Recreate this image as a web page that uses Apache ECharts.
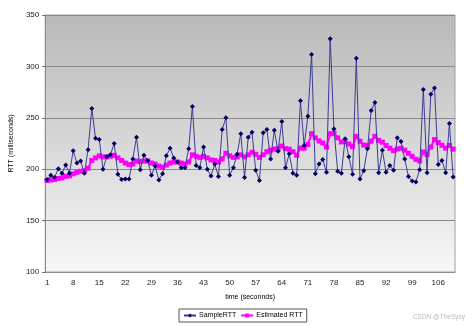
<!DOCTYPE html>
<html><head><meta charset="utf-8">
<script src="https://cdn.jsdelivr.net/npm/echarts@6/dist/echarts.min.js"></script>
<style>html,body{margin:0;padding:0;background:#fff}#c{width:474px;height:326px}</style>
</head><body><div id="c"></div>
<script>
const categories = [];
for (let i = 1; i <= 110; i++) categories.push(String(i));
const sampleRTT = [190,194,192,200.5,196,204,196,218,206,208,196,219,259,230,229,200,212,214,225,195,
190,190.5,190.5,210,231,199.5,213.5,208.5,194,203,189.5,195.5,213,220.5,211,207,201.5,201.5,220,261,
203.5,201.5,221.5,200,193.5,205,193,238.5,250,194,201.5,214.5,234.5,192,231,236,199,189,235.5,238.5,
210,238,217.5,246.5,201.5,215,196,194,266.5,223,251.5,311.5,195.5,205,209.5,197,327,239,198,196,
229.5,212,195,308,190.5,198.5,220,257,265,196.5,218.5,197,203.5,199,230.5,227,210,193,188.5,187.5,
199.5,277.5,196.5,273,279,204.5,208.5,196.5,244.5,192.5];
const estimatedRTT = [189,189.5,190,191,191.5,193,193.5,195.5,197,198,198.5,201,208.5,211,213,212,212,212.5,213.5,211,
208.5,206,204.5,205,208,207.5,208,208,206,205,203,202,204,206,207,207,206,205,207,214,
212.5,211.5,212.5,211,209,208.5,207,210,215.5,213,211.5,212,214,212,214,216.5,214.5,211.5,214,217,
218.5,219.5,220,222.5,220,219.5,217,213.5,220.5,220.5,224,234.5,230.5,227.5,225.5,221.5,234.5,235,230.5,226.5,
227,224.5,222,232,227.2,223.5,222.8,227.3,232,228,226.3,223,220.4,218,219.6,220.4,218.5,215.5,212.5,209.6,
208,216.8,214.3,221.6,228.8,226,223.3,220.5,223.1,219.5];
const yTicks = [100,150,200,250,300,350];

const FONT = 'Liberation Sans, Arial, sans-serif';
const chart = echarts.init(document.getElementById('c'));
chart.setOption({
  animation: false,
  textStyle: {fontFamily: FONT},
  grid: {left: 28, right: 19, top: 15, bottom: 54, show: true, borderColor: '#a0a0a0', borderWidth: 1,
    backgroundColor: new echarts.graphic.LinearGradient(0,0,0,1,[{offset:0,color:'#b9b9b9'},{offset:1,color:'#f7f7f7'}])},
  legend: {bottom: 4, left: 179, itemGap: 4, itemWidth: 12, itemHeight: 5, padding: [3,4,3,4],
    borderColor: '#555', borderWidth: 1, borderRadius: 0,
    textStyle: {fontSize: 7, color: '#000', padding: [0,0,0,-2]},
    data: ['SampleRTT','Estimated RTT']},
  graphic: [{type:'text', right: 9, bottom: 5, style:{text:'CSDN @TheSysy', fill:'#bbb', fontSize: 6.5, fontFamily: FONT}}],
  xAxis: {type: 'category', data: categories, boundaryGap: true,
    name: 'time (seconnds)', nameLocation: 'middle', nameGap: 22,
    nameTextStyle: {fontSize: 7, color: '#000'},
    axisLine: {lineStyle: {color: '#8c8c8c'}},
    axisTick: {interval: 6, alignWithLabel: true, length: 3, lineStyle:{color:'#666'}},
    axisLabel: {interval: 6, fontSize: 8, color: '#222', margin: 7}},
  yAxis: {type: 'value', min: 100, max: 350, interval: 50,
    name: 'RTT (milliseconds)', nameLocation: 'middle', nameGap: 21,
    nameTextStyle: {fontSize: 7, color: '#000'},
    axisLine: {show: true, lineStyle: {color: '#8c8c8c'}},
    axisTick: {show: true, length: 3, lineStyle:{color:'#666'}},
    axisLabel: {fontSize: 8, color: '#222', margin: 6,
      formatter: v => yTicks.includes(v) ? String(v) : ''},
    splitLine: {lineStyle: {color: '#8a8a8a', width: 1}}},
  series: [
    {name: 'SampleRTT', type: 'line', data: sampleRTT, symbol: 'diamond', symbolSize: 5, showAllSymbol: true,
      lineStyle: {color: '#3c3c96', width: 1}, itemStyle: {color: '#000066'}, z: 3},
    {name: 'Estimated RTT', type: 'line', data: estimatedRTT, symbol: 'rect', symbolSize: 5, showAllSymbol: true,
      lineStyle: {color: '#ff00ff', width: 2}, itemStyle: {color: '#ff00ff'}, z: 2}
  ]
});
</script></body></html>
